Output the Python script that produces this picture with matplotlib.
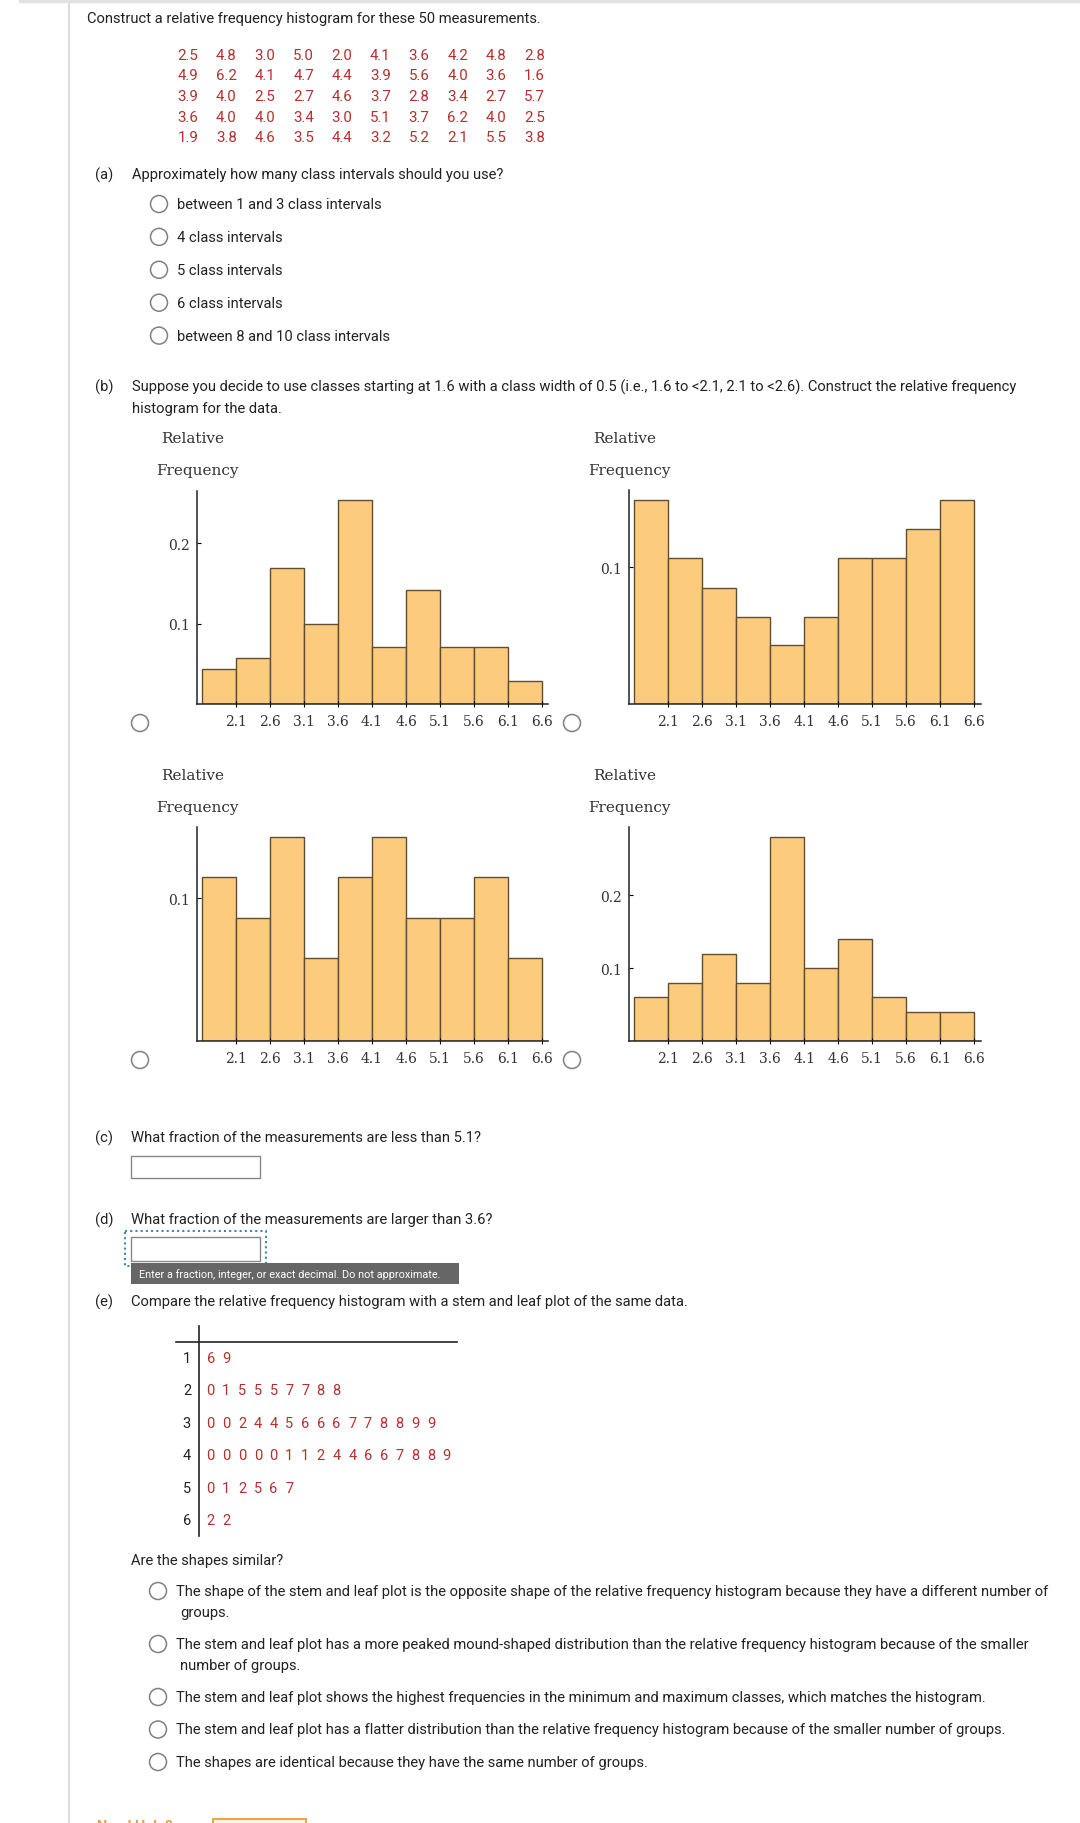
import matplotlib
matplotlib.use("Agg")
import matplotlib.pyplot as plt
from matplotlib.patches import Circle, Rectangle

plt.rcParams['font.family'] = ['Roboto', 'DejaVu Sans']

W, H = 1080, 1824

# the 50 measurements, as shown in the table
measurements = [
    [2.5, 4.8, 3.0, 5.0, 2.0, 4.1, 3.6, 4.2, 4.8, 2.8],
    [4.9, 6.2, 4.1, 4.7, 4.4, 3.9, 5.6, 4.0, 3.6, 1.6],
    [3.9, 4.0, 2.5, 2.7, 4.6, 3.7, 2.8, 3.4, 2.7, 5.7],
    [3.6, 4.0, 4.0, 3.4, 3.0, 5.1, 3.7, 6.2, 4.0, 2.5],
    [1.9, 3.8, 4.6, 3.5, 4.4, 3.2, 5.2, 2.1, 5.5, 3.8],
]

class_edges = [1.6, 2.1, 2.6, 3.1, 3.6, 4.1, 4.6, 5.1, 5.6, 6.1, 6.6]
tick_labels = ["2.1", "2.6", "3.1", "3.6", "4.1", "4.6", "5.1", "5.6", "6.1", "6.6"]

# relative frequencies of the four answer histograms
relfreq_top_left = [0.043, 0.057, 0.169, 0.100, 0.254, 0.071, 0.142, 0.071, 0.071, 0.028]
relfreq_top_right = [0.149, 0.107, 0.085, 0.064, 0.043, 0.064, 0.107, 0.107, 0.128, 0.149]
relfreq_bottom_left = [0.115, 0.086, 0.143, 0.058, 0.115, 0.143, 0.086, 0.086, 0.115, 0.058]
relfreq_bottom_right = [0.06, 0.08, 0.12, 0.08, 0.28, 0.10, 0.14, 0.06, 0.04, 0.04]

options_a = [
    "between 1 and 3 class intervals",
    "4 class intervals",
    "5 class intervals",
    "6 class intervals",
    "between 8 and 10 class intervals",
]

options_e = [
    ["The shape of the stem and leaf plot is the opposite shape of the relative frequency histogram because they have a different number of",
     "groups."],
    ["The stem and leaf plot has a more peaked mound-shaped distribution than the relative frequency histogram because of the smaller",
     "number of groups."],
    ["The stem and leaf plot shows the highest frequencies in the minimum and maximum classes, which matches the histogram."],
    ["The stem and leaf plot has a flatter distribution than the relative frequency histogram because of the smaller number of groups."],
    ["The shapes are identical because they have the same number of groups."],
]

RED = '#b5302c'
TXT = '#222222'
BAR = '#fccb7d'
EDGE = '#5e4e33'
SERIF = 'DejaVu Serif'
BODY = 10.6

fig = plt.figure(figsize=(W / 100, H / 100), dpi=100)
bg = fig.add_axes([0, 0, 1, 1])
bg.set_xlim(0, W)
bg.set_ylim(H, 0)
bg.axis('off')


def txt(x, y, s, size=BODY, color=TXT, **kw):
    bg.text(x, y, s, fontsize=size, color=color, va='center', **kw)


def radio(x, y):
    bg.add_patch(Circle((x, y), 8.5, facecolor='white', edgecolor='#808080', lw=1.1))


# page frame
bg.plot([69, 69], [3, H], color='#dcdcdc', lw=1.5)
bg.plot([20, W], [2, 2], color='#e2e2e2', lw=2.5)

txt(87, 19, "Construct a relative frequency histogram for these 50 measurements.")

for r, row in enumerate(measurements):
    for c, v in enumerate(row):
        txt(188 + 38.5 * c, 56 + 20.5 * r, f"{v:.1f}", size=10.8, color=RED, ha='center')

# (a)
txt(95, 175, "(a)")
txt(132, 175, "Approximately how many class intervals should you use?")
for i, opt in enumerate(options_a):
    y = 205 + 32.9 * i
    radio(159, y)
    txt(177, y, opt)

# (b)
txt(95, 387, "(b)")
txt(132, 387, "Suppose you decide to use classes starting at 1.6 with a class width of 0.5 "
              "(i.e., 1.6 to <2.1, 2.1 to <2.6). Construct the relative frequency")
txt(132, 409, "histogram for the data.")


def hist_panel(left, right, top, bottom, values, ymax, yticks, xlo, xhi):
    ax = fig.add_axes([left / W, 1 - bottom / H, (right - left) / W, (bottom - top) / H])
    ax.bar(class_edges[:-1], values, width=0.5, align='edge',
           color=BAR, edgecolor=EDGE, linewidth=1)
    ax.set_xlim(xlo, xhi)
    ax.set_ylim(0, ymax)
    ax.set_xticks(class_edges[1:])
    ax.set_xticklabels(tick_labels)
    ax.set_yticks(yticks)
    ax.set_yticklabels([f"{t:.1f}" for t in yticks])
    for s in ['top', 'right']:
        ax.spines[s].set_visible(False)
    for s in ['left', 'bottom']:
        ax.spines[s].set_linewidth(1.1)
        ax.spines[s].set_color('#222222')
    ax.tick_params(axis='x', direction='inout', length=4, pad=5, labelsize=10,
                   labelcolor='#333333')
    ax.tick_params(axis='y', direction='in', length=3, pad=5, labelsize=10,
                   labelcolor='#333333')
    for lab in ax.get_xticklabels() + ax.get_yticklabels():
        lab.set_fontfamily(SERIF)
    ax.patch.set_alpha(0)
    return ax


# y extents chosen so that the tallest bar sits just under the axis top
hist_panel(197, 548, 492, 705, relfreq_top_left, 0.265, [0.1, 0.2], 1.526, 6.688)
hist_panel(629, 981, 491, 705, relfreq_top_right, 0.1566, [0.1], 1.526, 6.70)
hist_panel(197, 548, 828, 1042, relfreq_bottom_left, 0.150, [0.1], 1.526, 6.688)
hist_panel(629, 981, 828, 1042, relfreq_bottom_right, 0.2935, [0.1, 0.2], 1.526, 6.70)

for (lx, ly) in [(193, 439), (625, 439), (193, 776), (625, 776)]:
    txt(lx, ly, "Relative", size=11, color='#333333', ha='center', family=SERIF)
    txt(lx + 4, ly + 32, "Frequency", size=11, color='#333333', ha='center', family=SERIF)

for (cx, cy) in [(140, 724), (572, 724), (140, 1061), (572, 1061)]:
    radio(cx, cy)

# (c)
txt(95, 1138, "(c)")
txt(131, 1138, "What fraction of the measurements are less than 5.1?")
bg.add_patch(Rectangle((131, 1157), 129, 22, facecolor='white', edgecolor='#888888', lw=1))

# (d)
txt(95, 1220, "(d)")
txt(131, 1220, "What fraction of the measurements are larger than 3.6?")
bg.add_patch(Rectangle((125, 1232), 141, 35, facecolor='none', edgecolor='#3f86b0',
                       lw=1.5, linestyle=(0, (1, 1.5))))
bg.add_patch(Rectangle((131, 1238), 129, 24, facecolor='white', edgecolor='#888888', lw=1))
bg.add_patch(Rectangle((131, 1264), 328, 21, facecolor='#666666', edgecolor='none'))
txt(139, 1274.5, "Enter a fraction, integer, or exact decimal. Do not approximate.",
    size=7.8, color='white')

# (e)
txt(95, 1302, "(e)")
txt(131, 1302, "Compare the relative frequency histogram with a stem and leaf plot of the same data.")

# stem and leaf plot built from the measurements
flat = sorted(v for row in measurements for v in row)
stems = sorted(set(int(v) for v in flat))
bg.plot([199, 199], [1327, 1537], color='#222222', lw=1.2)
bg.plot([176, 457], [1343, 1343], color='#222222', lw=1.2)
for i, st in enumerate(stems):
    y = 1359 + 32.4 * i
    txt(191, y, str(st), size=10.5, ha='right')
    leaves = [int(round(v * 10)) % 10 for v in flat if int(v) == st]
    for j, lf in enumerate(leaves):
        txt(210.7 + 15.73 * j, y, str(lf), size=10.5, color=RED, ha='center')

txt(131, 1561, "Are the shapes similar?")
y = 1592
for opt in options_e:
    radio(158, y)
    txt(176, y, opt[0])
    if len(opt) > 1:
        txt(180, y + 21, opt[1])
        y += 53
    else:
        y += 32.5

# "Need Help?" row, cut off at the bottom edge as in the screenshot
bg.add_patch(Rectangle((213, 1820), 93, 30, facecolor='#fdf3df', edgecolor='#e2a94d', lw=1.5))
bg.text(97, 1820, "Need Help?", fontsize=10.5, color='#e2a13f', va='top', weight='bold')

fig.savefig("out.png", dpi=100)
